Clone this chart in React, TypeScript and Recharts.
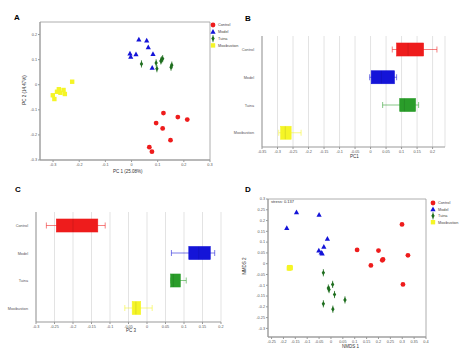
import React from "react";
import {
  ScatterChart,
  Scatter,
  BarChart,
  Bar,
  XAxis,
  YAxis,
  CartesianGrid,
  ReferenceArea,
} from "recharts";

// ---- groups / colours
const groups = ["Control", "Model", "Tuina", "Moxibustion"];
const RED = "#ee1c1c";
const BLUE = "#1414d8";
const GREEN_DARK = "#1f6e1f";
const GREEN = "#2a9d2a";
const YELLOW = "#f5f526";

// ---- panel A: PCA scores
const pcaControl = [
  { x: 0.122, y: -0.113 }, { x: 0.177, y: -0.129 }, { x: 0.213, y: -0.139 }, { x: 0.094, y: -0.153 },
  { x: 0.119, y: -0.174 }, { x: 0.149, y: -0.221 }, { x: 0.068, y: -0.249 }, { x: 0.078, y: -0.267 },
];
const pcaModel = [
  { x: 0.028, y: 0.18 }, { x: 0.058, y: 0.176 }, { x: 0.064, y: 0.149 }, { x: 0.082, y: 0.122 },
  { x: -0.006, y: 0.124 }, { x: -0.003, y: 0.111 }, { x: 0.017, y: 0.121 }, { x: 0.079, y: 0.067 },
];
const pcaTuina = [
  { x: 0.038, y: 0.083 }, { x: 0.094, y: 0.087 }, { x: 0.097, y: 0.064 }, { x: 0.112, y: 0.095 },
  { x: 0.119, y: 0.104 }, { x: 0.154, y: 0.078 }, { x: 0.151, y: 0.07 }, { x: 0.115, y: 0.099 },
];
const pcaMoxi = [
  { x: -0.227, y: 0.012 }, { x: -0.301, y: -0.042 }, { x: -0.295, y: -0.057 }, { x: -0.285, y: -0.028 },
  { x: -0.278, y: -0.018 }, { x: -0.272, y: -0.032 }, { x: -0.26, y: -0.021 }, { x: -0.255, y: -0.037 },
];
const pcaXTicks = [-0.3, -0.2, -0.1, 0, 0.1, 0.2, 0.3];
const pcaYTicks = [-0.3, -0.2, -0.1, 0, 0.1, 0.2];

// ---- panel B: PC1 box plot
const pc1Min = [0.07, -0.003, 0.039, -0.296];
const pc1Q1 = [0.084, 0.002, 0.094, -0.29];
const pc1Median = [0.121, 0.035, 0.109, -0.275];
const pc1Q3 = [0.171, 0.077, 0.145, -0.256];
const pc1Max = [0.214, 0.084, 0.155, -0.224];
const pc1Ticks = [-0.35, -0.3, -0.25, -0.2, -0.15, -0.1, -0.05, 0, 0.05, 0.1, 0.15, 0.2];

// ---- panel C: PC3 box plot
const pc3Min = [-0.272, 0.066, 0.064, -0.06];
const pc3Q1 = [-0.245, 0.113, 0.064, -0.04];
const pc3Median = [-0.2, 0.14, 0.071, -0.03];
const pc3Q3 = [-0.133, 0.171, 0.09, -0.017];
const pc3Max = [-0.113, 0.183, 0.106, 0.014];
const pc3Ticks = [-0.3, -0.25, -0.2, -0.15, -0.1, -0.05, 0, 0.05, 0.1, 0.15, 0.2];

// ---- panel D: NMDS
const nmdsControl = [
  { x: 0.11, y: 0.064 }, { x: 0.2, y: 0.061 }, { x: 0.299, y: 0.182 }, { x: 0.324, y: 0.039 },
  { x: 0.219, y: 0.02 }, { x: 0.216, y: 0.016 }, { x: 0.168, y: -0.008 }, { x: 0.303, y: -0.096 },
];
const nmdsModel = [
  { x: -0.145, y: 0.238 }, { x: -0.05, y: 0.227 }, { x: -0.186, y: 0.165 }, { x: -0.015, y: 0.115 },
  { x: -0.03, y: 0.078 }, { x: -0.051, y: 0.061 }, { x: -0.041, y: 0.051 }, { x: -0.037, y: 0.047 },
];
const nmdsTuina = [
  { x: -0.032, y: -0.042 }, { x: 0.007, y: -0.096 }, { x: -0.011, y: -0.113 }, { x: -0.008, y: -0.12 },
  { x: 0.015, y: -0.143 }, { x: 0.059, y: -0.168 }, { x: -0.032, y: -0.186 }, { x: 0.008, y: -0.211 },
];
const nmdsMoxi = [
  { x: -0.174, y: -0.019 }, { x: -0.177, y: -0.022 }, { x: -0.171, y: -0.016 }, { x: -0.176, y: -0.017 },
  { x: -0.172, y: -0.021 }, { x: -0.175, y: -0.02 }, { x: -0.173, y: -0.018 }, { x: -0.17, y: -0.02 },
];
const nmdsXTicks = [-0.25, -0.2, -0.15, -0.1, -0.05, 0, 0.05, 0.1, 0.15, 0.2, 0.25, 0.3, 0.35, 0.4];
const nmdsYTicks = [-0.3, -0.25, -0.2, -0.15, -0.1, -0.05, 0, 0.05, 0.1, 0.15, 0.2, 0.25, 0.3];

const tickStyle = { fontSize: 3.8, fill: "#555" };
const axisColor = "#999";

// ---- marker shapes
const CircleMark = (p: any) => <circle cx={p.cx} cy={p.cy} r={2.4} fill={RED} />;
const TriMark = (p: any) => (
  <polygon points={`${p.cx},${p.cy - 2.8} ${p.cx - 2.6},${p.cy + 1.9} ${p.cx + 2.6},${p.cy + 1.9}`} fill={BLUE} />
);
const DiaMark = (p: any) => (
  <g>
    <line x1={p.cx} y1={p.cy - 3.6} x2={p.cx} y2={p.cy + 3.6} stroke={GREEN_DARK} strokeWidth={0.8} />
    <polygon points={`${p.cx},${p.cy - 2.6} ${p.cx + 1.7},${p.cy} ${p.cx},${p.cy + 2.6} ${p.cx - 1.7},${p.cy}`} fill={GREEN_DARK} />
  </g>
);
const SqMark = (p: any) => <rect x={p.cx - 2.2} y={p.cy - 2.2} width={4.4} height={4.4} fill={YELLOW} />;

const markers = [CircleMark, TriMark, DiaMark, SqMark];

const LegendBox = ({ left, top, gap }: { left: number; top: number; gap: number }) => (
  <svg style={{ position: "absolute", left, top }} width={40} height={gap * 4 + 4}>
    {groups.map((g, i) => {
      const M = markers[i];
      return (
        <g key={g}>
          <M cx={3} cy={3 + i * gap} />
          <text x={8} y={4.4 + i * gap} fontSize={3.8} fill="#444">{g}</text>
        </g>
      );
    })}
  </svg>
);

const boxRows = (mn: number[], q1: number[], md: number[], q3: number[], mx: number[]) =>
  groups.map((g, i) => ({ group: g, range: [mn[i], mx[i]], min: mn[i], q1: q1[i], med: md[i], q3: q3[i], max: mx[i] }));

const boxColors = [RED, BLUE, GREEN, YELLOW];

const BoxShape = (props: any) => {
  let { x, y, width, height, payload, index } = props;
  if (width < 0) { x += width; width = -width; }
  const c = boxColors[index % 4];
  const px = (v: number) => x + ((v - payload.min) / (payload.max - payload.min)) * width;
  const cy = y + height / 2;
  return (
    <g>
      <line x1={px(payload.min)} y1={cy} x2={px(payload.max)} y2={cy} stroke={c} strokeOpacity={0.7} strokeWidth={0.8} />
      <line x1={px(payload.min)} y1={cy - 3} x2={px(payload.min)} y2={cy + 3} stroke={c} strokeOpacity={0.7} strokeWidth={0.8} />
      <line x1={px(payload.max)} y1={cy - 3} x2={px(payload.max)} y2={cy + 3} stroke={c} strokeOpacity={0.7} strokeWidth={0.8} />
      <rect x={px(payload.q1)} y={y} width={px(payload.q3) - px(payload.q1)} height={height} fill={c} stroke={c} strokeWidth={0.6} />
      <line x1={px(payload.med)} y1={y} x2={px(payload.med)} y2={y + height} stroke="#000" strokeOpacity={0.15} strokeWidth={0.7} />
    </g>
  );
};

const BoxPanel = ({ data, ticks, domain, margin, yWidth, width }: any) => (
  <BarChart width={width} height={177} data={data} layout="vertical" margin={margin}>
    <CartesianGrid horizontal={false} stroke="#e3e3e3" />
    <XAxis type="number" domain={domain} ticks={ticks} allowDataOverflow height={8} tick={tickStyle}
      tickSize={2} tickMargin={1} stroke={axisColor} interval={0} />
    <YAxis type="category" dataKey="group" width={yWidth} tick={tickStyle} tickLine={false} tickMargin={2} stroke={axisColor} />
    <Bar dataKey="range" barSize={13} shape={BoxShape} isAnimationActive={false} />
  </BarChart>
);

const txt = (s: any): React.CSSProperties => ({ position: "absolute", fontSize: 4.5, color: "#333", whiteSpace: "nowrap", lineHeight: 1, ...s });
const letter = (s: any): React.CSSProperties => ({ position: "absolute", fontSize: 8, fontWeight: "bold", color: "#000", lineHeight: 1, ...s });

export default function App() {
  return (
    <div style={{ position: "absolute", left: 0, top: 0, width: 474, height: 353, background: "#fff", fontFamily: "Liberation Sans, Arial, sans-serif", overflow: "hidden" }}>
      {/* A */}
      <div style={{ position: "absolute", left: 0, top: 0 }}>
        <ScatterChart width={237} height={176} margin={{ top: 22, right: 27, bottom: 6, left: 24 }}>
          <XAxis type="number" dataKey="x" domain={[-0.35, 0.3]} ticks={pcaXTicks} height={10} tick={tickStyle} tickSize={2} tickMargin={1} stroke={axisColor} interval={0} />
          <YAxis type="number" dataKey="y" domain={[-0.3, 0.25]} ticks={pcaYTicks} width={16} tick={tickStyle} tickSize={2} tickMargin={1} stroke={axisColor} interval={0} />
          <ReferenceArea x1={-0.35} x2={0.3} y1={-0.3} y2={0.25} fill="none" stroke={axisColor} strokeWidth={0.8} />
          <Scatter data={pcaControl} shape={CircleMark} isAnimationActive={false} />
          <Scatter data={pcaModel} shape={TriMark} isAnimationActive={false} />
          <Scatter data={pcaTuina} shape={DiaMark} isAnimationActive={false} />
          <Scatter data={pcaMoxi} shape={SqMark} isAnimationActive={false} />
        </ScatterChart>
      </div>
      <LegendBox left={210} top={22} gap={6.8} />
      <div style={letter({ left: 14, top: 14 })}>A</div>
      <div style={txt({ left: 113, top: 170 })}>PC 1 (25.08%)</div>
      <div style={txt({ left: 25, top: 90, transform: "translate(-50%,-50%) rotate(-90deg)" })}>PC 2 (14.47%)</div>

      {/* B */}
      <div style={{ position: "absolute", left: 225, top: 0 }}>
        <BoxPanel data={boxRows(pc1Min, pc1Q1, pc1Median, pc1Q3, pc1Max)} ticks={pc1Ticks} domain={[-0.35, 0.24]}
          width={249} margin={{ top: 36, right: 29, bottom: 22, left: 9 }} yWidth={28} />
      </div>
      <div style={letter({ left: 245, top: 15 })}>B</div>
      <div style={txt({ left: 350, top: 155 })}>PC1</div>

      {/* C */}
      <div style={{ position: "absolute", left: 0, top: 176 }}>
        <BoxPanel data={boxRows(pc3Min, pc3Q1, pc3Median, pc3Q3, pc3Max)} ticks={pc3Ticks} domain={[-0.3, 0.2]}
          width={237} margin={{ top: 36, right: 16, bottom: 23, left: 14 }} yWidth={22} />
      </div>
      <div style={letter({ left: 15, top: 186 })}>C</div>
      <div style={txt({ left: 126, top: 329 })}>PC 3</div>

      {/* D */}
      <div style={{ position: "absolute", left: 237, top: 176 }}>
        <ScatterChart width={237} height={177} margin={{ top: 23, right: 48, bottom: 8, left: 13 }}>
          <XAxis type="number" dataKey="x" domain={[-0.265, 0.4]} ticks={nmdsXTicks} height={8} tick={tickStyle} tickSize={2} tickMargin={1} stroke={axisColor} interval={0} />
          <YAxis type="number" dataKey="y" domain={[-0.34, 0.3]} ticks={nmdsYTicks} width={18} tick={tickStyle} tickSize={2} tickMargin={1} stroke={axisColor} interval={0} />
          <ReferenceArea x1={-0.265} x2={0.4} y1={-0.34} y2={0.3} fill="none" stroke={axisColor} strokeWidth={0.8} />
          <Scatter data={nmdsControl} shape={CircleMark} isAnimationActive={false} />
          <Scatter data={nmdsModel} shape={TriMark} isAnimationActive={false} />
          <Scatter data={nmdsTuina} shape={DiaMark} isAnimationActive={false} />
          <Scatter data={nmdsMoxi} shape={SqMark} isAnimationActive={false} />
        </ScatterChart>
      </div>
      <LegendBox left={430} top={200} gap={6.4} />
      <div style={letter({ left: 245, top: 186 })}>D</div>
      <div style={txt({ left: 271, top: 200, fontSize: 4 })}>stress: 0.137</div>
      <div style={txt({ left: 342, top: 345 })}>NMDS 1</div>
      <div style={txt({ left: 245, top: 266, transform: "translate(-50%,-50%) rotate(-90deg)" })}>NMDS 2</div>
    </div>
  );
}
